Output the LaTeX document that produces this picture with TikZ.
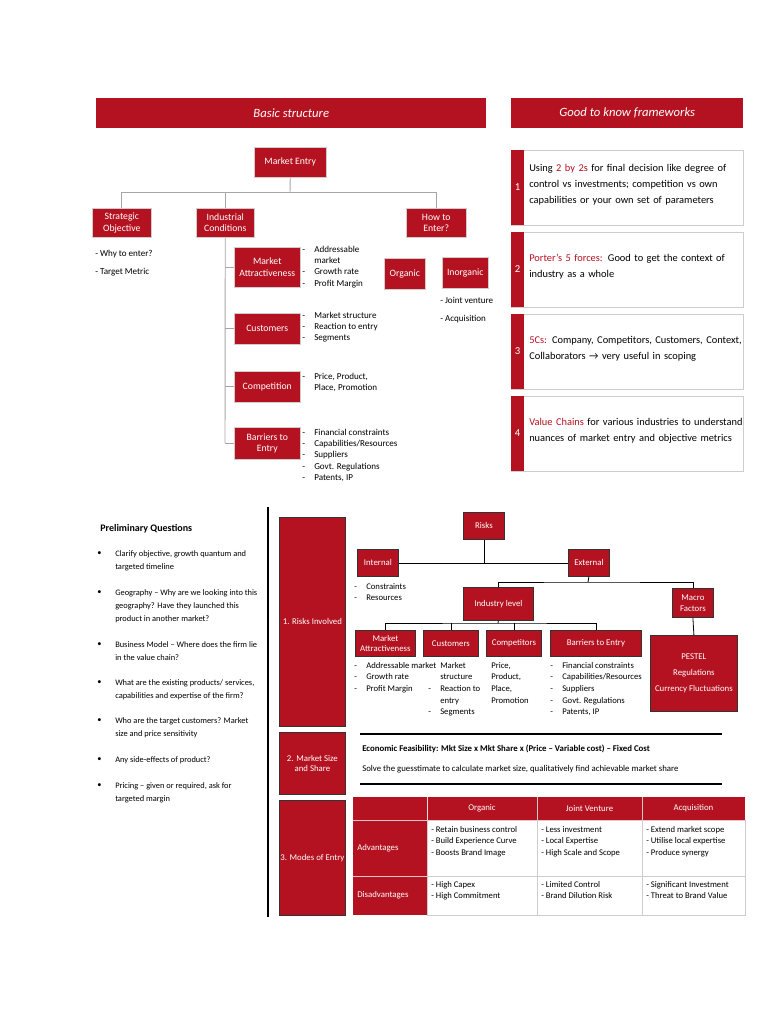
\documentclass[tikz,border=0pt]{standalone}
\usepackage{fontspec}
\setmainfont{Carlito}
\definecolor{redc}{RGB}{180,18,32}
\definecolor{lgray}{RGB}{205,205,205}
\newcommand\bl[1]{\makebox[9pt][l]{-}#1}
\newcommand\blc[1]{\hspace*{9pt}#1}
\begin{document}
\begin{tikzpicture}[x=0.75pt,y=-0.75pt,
  rb/.style={fill=redc,draw=lgray,text=white,font=\fontsize{7.3}{8.6}\selectfont,align=center,inner sep=0pt},
  rd/.style={fill=redc,draw=black!80,line width=0.6pt,text=white,font=\fontsize{6.6}{8}\selectfont,align=center,inner sep=0pt},
  tx/.style={font=\fontsize{6.8}{8.4}\selectfont,align=left,anchor=north west,inner sep=0pt},
  gl/.style={draw=black!35,line width=0.7pt},
  bk/.style={draw=black,line width=0.6pt},
  hdr/.style={fill=redc,text=white,font=\fontsize{9.5}{10}\selectfont\itshape,inner sep=0pt},
  card/.style={draw=lgray,fill=white,line width=0.6pt},
  fw/.style={tx,font=\fontsize{7.8}{12}\selectfont,text width=162pt,align=left}]
\useasboundingbox (0,0) rectangle (768,1024);
% headers
\node[hdr,minimum width=292.5pt,minimum height=22pt,anchor=north west] (h1) at (96,98) {Basic structure};
\node[hdr,minimum width=174pt,minimum height=22pt,anchor=north west] (h2) at (511,98) {Good to know frameworks};
% top tree
\newcommand\bx[6]{\node[rb,minimum width=#4*0.75pt,minimum height=#5*0.75pt,anchor=north west] (#1) at (#2,#3) {#6};}
\bx{me}{254}{147}{72}{30}{Market Entry}
\bx{so}{92}{208}{59}{29}{Strategic\\Objective}
\bx{ic}{196}{208}{58}{29}{Industrial\\Conditions}
\bx{he}{406}{208}{60}{29}{How to\\Enter?}
\bx{ma}{234}{247}{66}{40}{Market\\Attractiveness}
\bx{cu}{234}{313}{66}{31}{Customers}
\bx{co}{234}{371}{66}{31}{Competition}
\bx{be}{234}{427}{66}{32}{Barriers to\\Entry}
\bx{or}{384}{258}{41}{31}{Organic}
\bx{in}{442}{257}{46}{31}{Inorganic}
\coordinate (t1) at (290,192);
\draw[gl] (me.south) -- (t1);
\draw[gl] (so.north) |- (t1);
\draw[gl] (he.north) |- (t1);
\draw[gl] (ic.north) -- (ic.north|-t1);
\coordinate (icb) at (225,443);
\draw[gl] (ic.south) -- (icb);
\foreach \n in {ma,cu,co,be} \draw[gl] (\n.west) -- (\n.west -| icb);
\node[tx] (t_so) at (95,250) {- Why to enter?\\[5pt]- Target Metric};
\node[tx] (t_ma) at (302,246) {\bl{Addressable}\\\blc{market}\\\bl{Growth rate}\\\bl{Profit Margin}};
\node[tx] (t_cu) at (302,312) {\bl{Market structure}\\\bl{Reaction to entry}\\\bl{Segments}};
\node[tx] (t_co) at (302,373) {\bl{Price, Product,}\\\blc{Place, Promotion}};
\node[tx] (t_be) at (302,429) {\bl{Financial constraints}\\\bl{Capabilities/Resources}\\\bl{Suppliers}\\\bl{Govt. Regulations}\\\bl{Patents, IP}};
\node[tx] (t_in) at (440,297) {- Joint venture\\[5pt]- Acquisition};
% frameworks
\foreach \y/\n in {150/1,232/2,314/3,396/4}{
  \draw[card] (511,\y) rectangle (743,\y+75);
  \fill[redc] (511,\y) rectangle (524,\y+75);
  \node[text=white,font=\fontsize{8}{9}\selectfont] (num\n) at (517.5,\y+37.5) {\n};
}
\newcommand\rt[1]{\textcolor{redc}{#1}}
\node[fw] (f1) at (529,164) {Using \rt{2 by 2s} for final decision like degree of\\control vs investments; competition vs own\\capabilities or your own set of parameters};
\node[fw] (f2) at (529,254) {\rt{Porter's 5 forces:} Good to get the context of\\industry as a whole};
\node[fw] (f3) at (529,336) {\rt{5Cs:} Company, Competitors, Customers, Context,\\Collaborators → very useful in scoping};
\node[fw] (f4) at (529,418) {\rt{Value Chains} for various industries to understand\\nuances of market entry and objective metrics};
% preliminary questions
\node[tx,font=\fontsize{7.5}{9}\selectfont\bfseries] (pq) at (100,524) {Preliminary Questions};
\foreach \y/\t in {550/{Clarify objective, growth quantum and\\targeted timeline},
  589/{Geography – Why are we looking into this\\geography? Have they launched this\\product in another market?},
  641/{Business Model – Where does the firm lie\\in the value chain?},
  679/{What are the existing products/ services,\\capabilities and expertise of the firm?},
  717/{Who are the target customers? Market\\size and price sensitivity},
  756/{Any side-effects of product?},
  782/{Pricing – given or required, ask for\\targeted margin}}{
  \node[tx,font=\fontsize{6.3}{9.8}\selectfont] at (97,\y+1.5) {•};
  \node[tx,font=\fontsize{6.3}{9.8}\selectfont] at (115,\y) {\t};
}
\coordinate (vl1) at (268,507); \coordinate (vl2) at (268,917);
\draw[line width=1.2pt] (vl1) -- (vl2);
% left red column
\node[rd,minimum width=49.5pt,minimum height=156.75pt,anchor=north west] (r1) at (279,517) {1. Risks Involved};
\node[rd,minimum width=49.5pt,minimum height=46.5pt,anchor=north west] (r2) at (279,732) {2. Market Size\\and Share};
\node[rd,minimum width=49.5pt,minimum height=86.25pt,anchor=north west] (r3) at (279,800) {3. Modes of Entry};
% risks tree
\newcommand\bd[6]{\node[rd,minimum width=#4*0.75pt,minimum height=#5*0.75pt,anchor=north west] (#1) at (#2,#3) {#6};}
\bd{rk}{463}{512}{41}{27}{Risks}
\bd{int}{357}{549}{41}{27}{Internal}
\bd{ext}{568}{549}{41}{27}{External}
\bd{ind}{463}{587}{70}{33}{Industry level}
\bd{mac}{672}{588}{41}{29}{Macro\\Factors}
\bd{b1}{355}{630}{60}{26}{Market\\Attractiveness}
\bd{b2}{423}{630}{55}{26}{Customers}
\bd{b3}{486}{630}{55}{26}{Competitors}
\bd{b4}{550}{630}{91}{26}{Barriers to Entry}
\node[rd,minimum width=87*0.75pt,minimum height=76*0.75pt,anchor=north west,font=\fontsize{6.6}{12}\selectfont] (pe) at (650,635) {PESTEL\\Regulations\\Currency Fluctuations};
\draw[bk] (int.east) -- (ext.west);
\draw[bk] (rk.south) -- (rk.south|-int.east);
\coordinate (e1) at (588,582);
\draw[bk] (ext.south) -- (e1);
\draw[bk] (ind.north) |- (e1) -| (mac.north);
\coordinate (i1) at (498,623);
\draw[bk] (ind.south) -- (i1);
\draw[bk] (b1.north) |- (i1) -| (b4.north);
\draw[bk] (b2.north) -- (b2.north|-i1);
\draw[bk] (b3.north) -- (b3.north|-i1);
\draw[bk] (mac.south) -- (pe.north);
\tikzset{tr/.style={tx,font=\fontsize{6.5}{8.7}\selectfont}}
\node[tr] (t_int) at (354,583) {\bl{Constraints}\\\bl{Resources}};
\node[tr] (t_b1) at (354,662) {\bl{Addressable market}\\\bl{Growth rate}\\\bl{Profit Margin}};
\node[tr] (t_b2) at (428,662) {\blc{Market}\\\blc{structure}\\\bl{Reaction to}\\\blc{entry}\\\bl{Segments}};
\node[tr] (t_b3) at (491,662) {Price,\\Product,\\Place,\\Promotion};
\node[tr] (t_b4) at (550,662) {\bl{Financial constraints}\\\bl{Capabilities/Resources}\\\bl{Suppliers}\\\bl{Govt. Regulations}\\\bl{Patents, IP}};
% section 2
\coordinate (s1) at (360,734); \coordinate (s2) at (722,734);
\coordinate (s3) at (360,784); \coordinate (s4) at (722,784);
\draw[line width=1pt] (s1) -- (s2); \draw[line width=1pt] (s3) -- (s4);
\node[tx,font=\fontsize{6.6}{8}\selectfont\bfseries] (ef) at (362,745) {Economic Feasibility: Mkt Size x Mkt Share x (Price – Variable cost) – Fixed Cost};
\node[tx,font=\fontsize{6.6}{8}\selectfont] (gs) at (362,765) {Solve the guesstimate to calculate market size, qualitatively find achievable market share};
% table
\fill[redc] (353,797) rectangle (745,820);
\fill[redc] (353,820) rectangle (427,915);
\draw[lgray,line width=0.6pt] (427,820) rectangle (745,915);
\draw[lgray,line width=0.6pt] (427,876) -- (745,876);
\foreach \x in {537,642} \draw[lgray,line width=0.6pt] (\x,797) -- (\x,915);
\draw[white!85!redc,line width=0.4pt] (427,797) -- (427,820);
\draw[white!75!redc,line width=0.4pt] (353,820) -- (745,820);
\draw[white!75!redc,line width=0.4pt] (353,876) -- (427,876);
\tikzset{th/.style={text=white,font=\fontsize{6.6}{8}\selectfont,inner sep=0pt}}
\node[th] (c1) at (482,808.5) {Organic};
\node[th] (c2) at (589.5,808.5) {Joint Venture};
\node[th] (c3) at (693.5,808.5) {Acquisition};
\node[th,anchor=west] (r_a) at (357,848) {Advantages};
\node[th,anchor=west] (r_d) at (357,895) {Disadvantages};
\tikzset{tc/.style={tx,font=\fontsize{6.5}{8.7}\selectfont}}
\node[tc] (a1) at (431,826) {- Retain business control\\- Build Experience Curve\\- Boosts Brand Image};
\node[tc] (a2) at (541,826) {- Less investment\\- Local Expertise\\- High Scale and Scope};
\node[tc] (a3) at (646,826) {- Extend market scope\\- Utilise local expertise\\- Produce synergy};
\node[tc] (d1) at (431,881) {- High Capex\\- High Commitment};
\node[tc] (d2) at (541,881) {- Limited Control\\- Brand Dilution Risk};
\node[tc] (d3) at (646,881) {- Significant Investment\\- Threat to Brand Value};
\end{tikzpicture}
\end{document}
